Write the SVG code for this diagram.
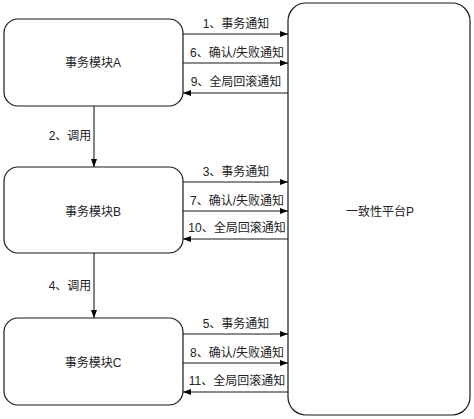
<svg xmlns="http://www.w3.org/2000/svg" width="474" height="419" viewBox="0 0 474 419">
<defs>
<marker id="arr" viewBox="0 0 8 6" refX="8" refY="3" markerWidth="8" markerHeight="6" markerUnits="userSpaceOnUse" orient="auto">
<path d="M0,0 L8,3 L0,6 Z" fill="#000"/>
</marker>
</defs>
<style>
.box{fill:#fff;stroke:#1a1a1a;stroke-width:1.2}
.t{font-family:"Liberation Sans","Noto Sans CJK SC",sans-serif;font-size:12px;fill:#222;text-anchor:middle;dominant-baseline:central}
.l{font-family:"Liberation Sans","Noto Sans CJK SC",sans-serif;font-size:12px;fill:#222;text-anchor:middle;dominant-baseline:central}
.c{stroke:#1a1a1a;stroke-width:1.1;fill:none;marker-end:url(#arr)}
</style>
<rect width="474" height="419" fill="#fff"/>
<g id="nodeA">
<rect class="box" x="4" y="19" width="179" height="87" rx="14"/>
<text class="t" x="93" y="63">事务模块A</text>
</g>
<g id="nodeB">
<rect class="box" x="4" y="167" width="179" height="86" rx="14"/>
<text class="t" x="93" y="212">事务模块B</text>
</g>
<g id="nodeC">
<rect class="box" x="4" y="318" width="179" height="87" rx="14"/>
<text class="t" x="93" y="363">事务模块C</text>
</g>
<g id="nodeP">
<rect class="box" x="288" y="3" width="182" height="412" rx="18"/>
<text class="t" x="380" y="212">一致性平台P</text>
</g>
<g id="connectors">
<line class="c" x1="183" y1="34" x2="288" y2="34"/>
<line class="c" x1="183" y1="63" x2="288" y2="63"/>
<line class="c" x1="288" y1="93" x2="183" y2="93"/>
<line class="c" x1="183" y1="182" x2="288" y2="182"/>
<line class="c" x1="183" y1="211" x2="288" y2="211"/>
<line class="c" x1="288" y1="239" x2="183" y2="239"/>
<line class="c" x1="183" y1="334" x2="288" y2="334"/>
<line class="c" x1="183" y1="363" x2="288" y2="363"/>
<line class="c" x1="288" y1="392" x2="183" y2="392"/>
<line class="c" x1="94" y1="106" x2="94" y2="167"/>
<line class="c" x1="94" y1="253" x2="94" y2="318"/>
<text class="l" x="236" y="24">1、事务通知</text>
<text class="l" x="237" y="53">6、确认/失败通知</text>
<text class="l" x="236" y="82">9、全局回滚通知</text>
<text class="l" x="236" y="172">3、事务通知</text>
<text class="l" x="237" y="201">7、确认/失败通知</text>
<text class="l" x="237" y="228">10、全局回滚通知</text>
<text class="l" x="236" y="324">5、事务通知</text>
<text class="l" x="237" y="353">8、确认/失败通知</text>
<text class="l" x="237" y="381">11、全局回滚通知</text>
<text class="l" x="70" y="136">2、调用</text>
<text class="l" x="70" y="286">4、调用</text>
</g>
</svg>
